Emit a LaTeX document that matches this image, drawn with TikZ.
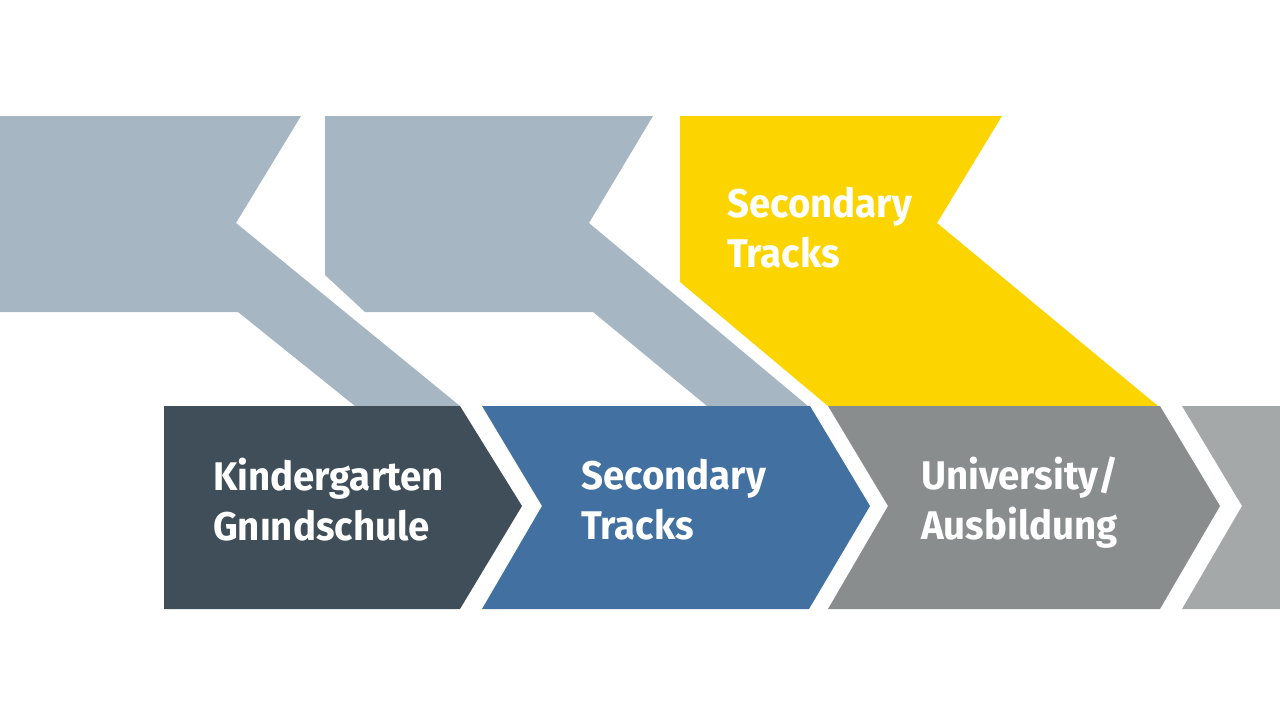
\documentclass[tikz,border=0pt]{standalone}
\usepackage{fontspec}
\setmainfont{Fira Sans}
\definecolor{slate}{HTML}{3F4E59}
\definecolor{steel}{HTML}{4270A0}
\definecolor{midgrey}{HTML}{8A8D8D}
\definecolor{palegrey}{HTML}{A4A8A9}
\definecolor{mist}{HTML}{A7B6C3}
\definecolor{sun}{HTML}{FCD500}
\tikzset{
  tracklabel/.style={anchor=west,inner sep=0pt,align=left,text=white,xscale=.96,
    font=\fontsize{40}{50}\selectfont\bfseries},
}
\begin{document}
\begin{tikzpicture}[x=1pt,y=-1pt]
\useasboundingbox (0,0) rectangle (1280,720);
\fill[mist] (0,116)--(301,116)--(236,223)--(460,406)--(355,406)--(238,312)--(0,312)--cycle;
\fill[mist] (325,116)--(653,116)--(589,223)--(808,406)--(707,406)--(593,312)--(365,312)--(325,275)--cycle;
\fill[sun] (680,116)--(1002,116)--(937,223)--(1158,406)--(828,406)--(680,282)--cycle;
\fill[slate] (164,406)--(460,406)--(522,506)--(460,609)--(164,609)--cycle;
\fill[steel] (482,406)--(810,406)--(870,506)--(809,609)--(482,609)--(542,506)--cycle;
\fill[midgrey] (828,406)--(1160,406)--(1220,506)--(1160,609)--(828,609)--(888,506)--cycle;
\fill[palegrey] (1182,406)--(1280,406)--(1280,609)--(1182,609)--(1242,506)--cycle;
\node[tracklabel] (kinder) at (213,500) {Kindergarten\\Gnındschule};
\node[tracklabel] (second) at (581,500) {Secondary\\Tracks};
\node[tracklabel] (univ) at (921,503) {University/\\Ausbildung};
\node[tracklabel] (upper) at (727,228) {Secondary\\Tracks};
\end{tikzpicture}
\end{document}
